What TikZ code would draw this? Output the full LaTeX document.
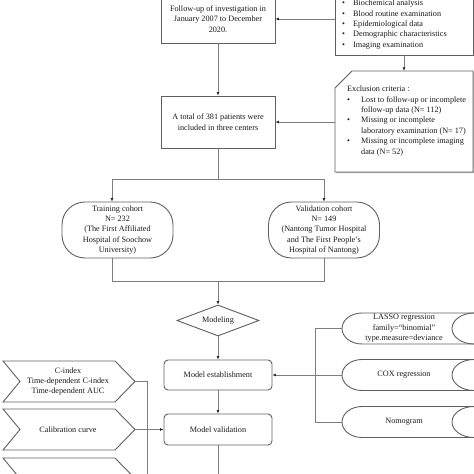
\documentclass[tikz,border=0pt]{standalone}
\usepackage{fontspec}
\setmainfont{Liberation Serif}
\usetikzlibrary{arrows.meta,shapes.geometric,shadows}
\definecolor{linec}{RGB}{125,125,125}
\definecolor{boxc}{RGB}{95,95,95}
\definecolor{shad}{RGB}{175,175,175}
\definecolor{txt}{RGB}{25,25,25}
\newcommand\dotitem[2][11pt]{\makebox[#1][l]{\textbullet}#2}
\begin{document}
\begin{tikzpicture}[x=1pt,y=-1pt,
  every node/.style={font=\fontsize{8.2}{10.4}\selectfont, text=txt},
  line/.style={draw=linec, line width=0.8pt},
  arrow/.style={line, -{Latex[length=3.5pt,width=3pt,color=black!85]}},
  box/.style={draw=boxc, line width=0.9pt, inner sep=0pt, align=center},
  sbox/.style={box, fill=white, drop shadow={shadow xshift=1pt, shadow yshift=-1pt, fill=shad, opacity=1}},
  rbox/.style={box, rounded corners=4pt, minimum width=108pt, minimum height=30pt},
  cohort/.style={box, rounded corners=23pt, minimum width=111pt, minimum height=56pt},
  shapeline/.style={draw=boxc, line width=0.9pt},
  plain/.style={inner sep=0pt, align=center},
  lefttext/.style={inner sep=0pt, align=left, anchor=west}]
\useasboundingbox (0,0) rectangle (474,474);
\clip (0,0) rectangle (474,474);

% top row
\node[sbox, minimum width=114pt, minimum height=48pt] (follow) at (218,19)
  {Follow-up of investigation in\\January 2007 to December\\2020.};
\node[sbox, minimum width=138pt, minimum height=61pt] (data) at (404,24.5) {};
\node[lefttext] (datatext) at (342,24.5)
  {\dotitem{Biochemical analysis}\\\dotitem{Blood routine examination}\\
   \dotitem{Epidemiological data}\\\dotitem{Demographic characteristics}\\
   \dotitem{Imaging examination}};

% exclusion
\node[inner sep=0pt, minimum width=138pt, minimum height=101pt] (exclbox) at (404,121.5) {};
\fill[shad] (336,89) -- (353,72) -- (474,72) -- (474,173) -- (336,173) -- cycle;
\filldraw[shapeline, fill=white] (335,88) -- (352,71) -- (473,71) -- (473,172) -- (335,172) -- cycle;
\node[lefttext] (excltext) at (347,121)
  {Exclusion criteria :\\
   \dotitem[14pt]{Lost to follow-up or incomplete}\\\hspace*{14pt}follow-up data (N= 112)\\
   \dotitem[14pt]{Missing or incomplete}\\\hspace*{14pt}laboratory examination (N= 17)\\
   \dotitem[14pt]{Missing or incomplete imaging}\\\hspace*{14pt}data (N= 52)};

\node[sbox, minimum width=114pt, minimum height=52pt] (total) at (218,122)
  {A total of 381 patients were\\included in three centers};

% cohorts
\node[cohort] (train) at (117.5,230)
  {Training cohort\\N= 232\\(The First Affiliated\\Hospital of Soochow\\University)};
\node[cohort] (val) at (324,230)
  {Validation cohort\\N= 149\\(Nantong Tumor Hospital\\and The First People's\\Hospital of Nantong)};

% modeling
\node[box, diamond, aspect=2.6, minimum width=82pt, minimum height=31pt] (modeling) at (218,320.5) {Modeling};
\node[rbox] (est) at (218,375) {Model establishment};
\node[rbox, minimum height=31pt] (valid) at (218,429.5) {Model validation};

% left chevrons
\draw[shapeline] (3,361) -- (115,361) -- (135,381.5) -- (115,402) -- (3,402) -- (20,381.5) -- cycle;
\draw[shapeline] (3,409) -- (115,409) -- (135,429.5) -- (115,450) -- (3,450) -- (20,429.5) -- cycle;
\draw[shapeline] (3,458) -- (115,458) -- (135,478.5) -- (115,499) -- (3,499) -- (20,478.5) -- cycle;
\node[plain] (cidx) at (68,381.5) {C-index\\Time-dependent C-index\\Time-dependent AUC};
\node[plain] (calib) at (68,429.5) {Calibration curve};
\coordinate (c1tip) at (135,381.5);
\coordinate (c2tip) at (135,429.5);
\coordinate (c1bend) at (147,381.5);
\coordinate (c1down) at (147,480);

% right stored-data shapes
\foreach \cy in {328.5,375,422}{
  \draw[shapeline] (478,\cy-15.5) -- (362,\cy-15.5)
     arc[start angle=90,end angle=270,x radius=20pt,y radius=15.5pt] -- (478,\cy+15.5);
  \draw[shapeline] (474,\cy-15.5)
     arc[start angle=90,end angle=270,x radius=22pt,y radius=15.5pt];
}
\node[plain] (lasso) at (404,328.5) {LASSO regression\\family=“binomial”\\type.measure=deviance};
\node[plain] (cox) at (404,375) {COX regression};
\node[plain] (nomo) at (404,422) {Nomogram};
\coordinate (lassoL) at (342,328.5);
\coordinate (coxL) at (342,375);
\coordinate (nomoL) at (342,422);
\coordinate (lassoJ) at (315,328.5);
\coordinate (nomoJ) at (315,422);

% connectors
\draw[arrow] (data.west |- follow.east) -- (follow.east);
\draw[arrow] (data.south) -- (exclbox.north);
\draw[arrow] (exclbox.west |- total.east) -- (total.east);
\draw[arrow] (follow.south) -- (total.north);
\coordinate (split) at (218,179);
\coordinate (merge) at (218,281);
\draw[line] (total.south) -- (split);
\draw[arrow] (split) -| ([xshift=-5.5pt]train.north);
\draw[arrow] (split) -| (val.north);
\draw[line] ([xshift=-5.5pt]train.south) |- (merge);
\draw[line] (val.south) |- (merge);
\draw[arrow] (merge) -- (modeling.north);
\draw[arrow] (modeling.south) -- (est.north);
\draw[arrow] (est.south) -- (valid.north);
\draw[line] (valid.south) -- ++(0,40);
\draw[arrow] (c2tip) -- (valid.west);
\draw[line] (c1tip) -- (c1bend) -- (c1down);
\draw[line] (lassoL) -- (lassoJ) -- (nomoJ) -- (nomoL);
\draw[arrow] (coxL) -- (est.east);
\end{tikzpicture}
\end{document}
